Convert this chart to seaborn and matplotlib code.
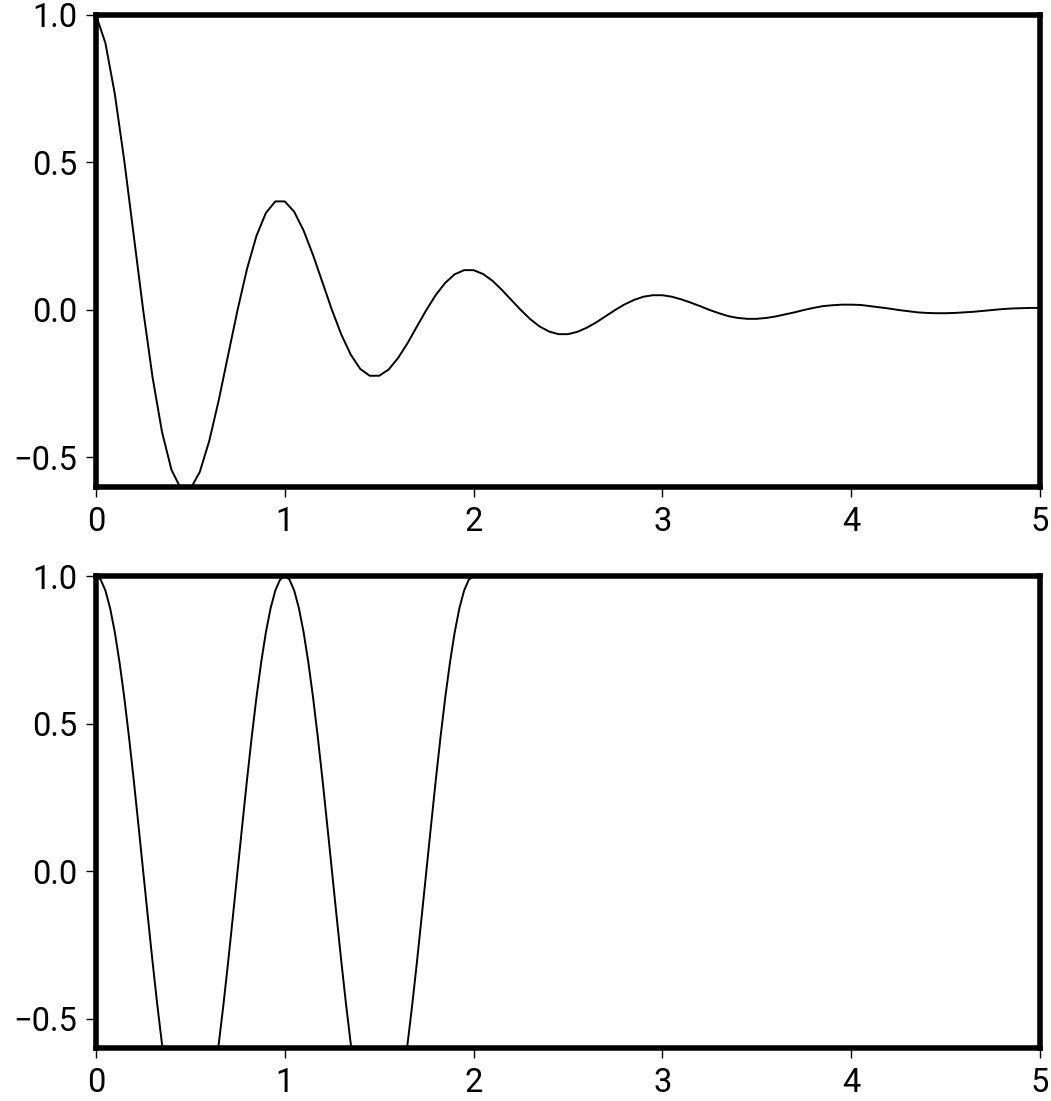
import numpy as np
import matplotlib
matplotlib.use("Agg")
import matplotlib.pyplot as plt
import seaborn as sns
import pandas as pd

# sampled every 0.05 from t=0 to t=5 (damped oscillation, top panel)
t_top = [round(0.05 * i, 2) for i in range(101)]
y_top = [1.000, 0.905, 0.732, 0.506, 0.253, 0.000, -0.229, -0.414, -0.542, -0.606,
         -0.607, -0.549, -0.444, -0.307, -0.153, 0.000, 0.139, 0.251, 0.329, 0.368,
         0.368, 0.333, 0.269, 0.186, 0.093, 0.000, -0.084, -0.152, -0.200, -0.223,
         -0.223, -0.202, -0.163, -0.113, -0.056, 0.000, 0.051, 0.092, 0.121, 0.135,
         0.135, 0.122, 0.099, 0.068, 0.034, 0.000, -0.031, -0.056, -0.073, -0.082,
         -0.082, -0.074, -0.060, -0.042, -0.021, 0.000, 0.019, 0.034, 0.045, 0.050,
         0.050, 0.045, 0.036, 0.025, 0.013, 0.000, -0.011, -0.021, -0.027, -0.030,
         -0.030, -0.027, -0.022, -0.015, -0.008, 0.000, 0.007, 0.013, 0.016, 0.018,
         0.018, 0.017, 0.013, 0.009, 0.005, 0.000, -0.004, -0.008, -0.010, -0.011,
         -0.011, -0.010, -0.008, -0.006, -0.003, 0.000, 0.003, 0.005, 0.006, 0.007,
         0.007]

# undamped oscillation, bottom panel, t=0..2 every 0.025
t_bot = [round(0.025 * i, 3) for i in range(81)]
y_bot = [1.000, 0.988, 0.951, 0.891, 0.809, 0.707, 0.588, 0.454, 0.309, 0.156,
         0.000, -0.156, -0.309, -0.454, -0.588, -0.707, -0.809, -0.891, -0.951, -0.988,
         -1.000, -0.988, -0.951, -0.891, -0.809, -0.707, -0.588, -0.454, -0.309, -0.156,
         0.000, 0.156, 0.309, 0.454, 0.588, 0.707, 0.809, 0.891, 0.951, 0.988,
         1.000, 0.988, 0.951, 0.891, 0.809, 0.707, 0.588, 0.454, 0.309, 0.156,
         0.000, -0.156, -0.309, -0.454, -0.588, -0.707, -0.809, -0.891, -0.951, -0.988,
         -1.000, -0.988, -0.951, -0.891, -0.809, -0.707, -0.588, -0.454, -0.309, -0.156,
         0.000, 0.156, 0.309, 0.454, 0.588, 0.707, 0.809, 0.891, 0.951, 0.988,
         1.000]

x_ticks = [0, 1, 2, 3, 4, 5]
y_ticks = [-0.5, 0.0, 0.5, 1.0]

sns.set_style("white")
plt.rcParams['font.family'] = ['Roboto', 'DejaVu Sans']
plt.rcParams['axes.unicode_minus'] = True

fig = plt.figure(figsize=(10.51, 11.01), dpi=100)
ax1 = fig.add_axes([0.0913, 0.5577, 0.8982, 0.4287])
ax2 = fig.add_axes([0.0913, 0.0481, 0.8982, 0.4287])

frames = [pd.DataFrame({"t": t_top, "y": y_top}),
          pd.DataFrame({"t": t_bot, "y": y_bot})]

for ax, df in zip([ax1, ax2], frames):
    sns.lineplot(data=df, x="t", y="y", ax=ax, color="black", linewidth=1.4, sort=False)
    ax.set_xlim(0, 5)
    ax.set_ylim(-0.6, 1.0)
    ax.set_xticks(x_ticks)
    ax.set_yticks(y_ticks)
    ax.set_xticklabels([str(v) for v in x_ticks])
    ax.set_yticklabels(["\u22120.5", "0.0", "0.5", "1.0"])
    ax.set_xlabel("")
    ax.set_ylabel("")
    for s in ax.spines.values():
        s.set_linewidth(4.0)
        s.set_color("black")
    ax.tick_params(axis="both", which="major", direction="out", length=7.5, width=1.0,
                   color="black", labelcolor="black", labelsize=23.5, pad=6,
                   bottom=True, left=True)

fig.savefig("out.png", dpi=100)
